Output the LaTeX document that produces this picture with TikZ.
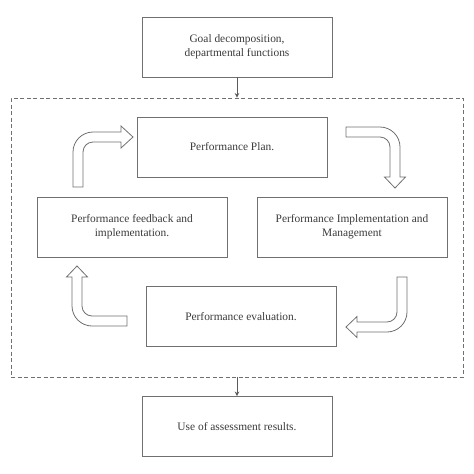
\documentclass[tikz,border=0pt]{standalone}
\usepackage{fontspec}
\setmainfont{Liberation Serif}
\usetikzlibrary{arrows.meta}
\definecolor{linegray}{HTML}{707070}
\definecolor{textgray}{HTML}{3A3A3A}
\tikzset{
  box/.style={draw=linegray, line width=0.9pt, minimum width=190pt, minimum height=60pt,
    align=center, text=textgray, font=\fontsize{11.4}{14}\selectfont, inner sep=2pt},
  framebox/.style={draw=linegray, line width=0.9pt, dash pattern=on 4pt off 2.5pt,
    minimum width=452pt, minimum height=279pt, inner sep=0pt},
  link/.style={draw=linegray!80!black, line width=0.8pt, -{Stealth[length=4.5pt,width=4.5pt]}},
  blockarrow/.style={draw=linegray, line width=0.8pt, fill=white, line join=miter}
}
\begin{document}
\begin{tikzpicture}[x=1pt,y=-1pt]
\useasboundingbox (0,0) rectangle (474,474);
\node[framebox] (frame) at (237,237.5) {};
\node[box] (goal) at (237,47) {Goal decomposition,\\departmental functions};
\node[box] (plan) at (232,147) {Performance Plan.};
\node[box] (feed) at (132,227) {Performance feedback and\\implementation.};
\node[box] (impl) at (352,227) {Performance Implementation and\\Management};
\node[box] (eval) at (241,316.5) {Performance evaluation.};
\node[box] (use) at (237,426.5) {Use of assessment results.};
\draw[link] (goal.south) -- (frame.north);
\draw[link] (frame.south) -- (use.north);
% top-left block arrow
\draw[blockarrow] (73,187) -- (73,152) .. controls (73,141) and (82,132) .. (93,132) -- (121,132)
  -- (121,126) -- (133,137) -- (121,148) -- (121,142) -- (93,142)
  .. controls (87.5,142) and (83,146.5) .. (83,152) -- (83,187) -- cycle;
% top-right block arrow
\draw[blockarrow] (346,127) -- (380,127) .. controls (391,127) and (400,136) .. (400,147) -- (400,177)
  -- (405.5,177) -- (395,188) -- (384.5,177) -- (390,177) -- (390,147)
  .. controls (390,141.5) and (385.5,137) .. (380,137) -- (346,137) -- cycle;
% bottom-left block arrow
\draw[blockarrow] (127,326) -- (92,326) .. controls (81,326) and (72,317) .. (72,306) -- (72,277)
  -- (66.5,277) -- (77,266) -- (87.5,277) -- (82,277) -- (82,306)
  .. controls (82,311.5) and (86.5,316) .. (92,316) -- (127,316) -- cycle;
% bottom-right block arrow
\draw[blockarrow] (407,277) -- (407,312) .. controls (407,323) and (398,332) .. (387,332) -- (357,332)
  -- (357,337.5) -- (346,327) -- (357,316.5) -- (357,322) -- (387,322)
  .. controls (392.5,322) and (397,317.5) .. (397,312) -- (397,277) -- cycle;
\end{tikzpicture}
\end{document}
